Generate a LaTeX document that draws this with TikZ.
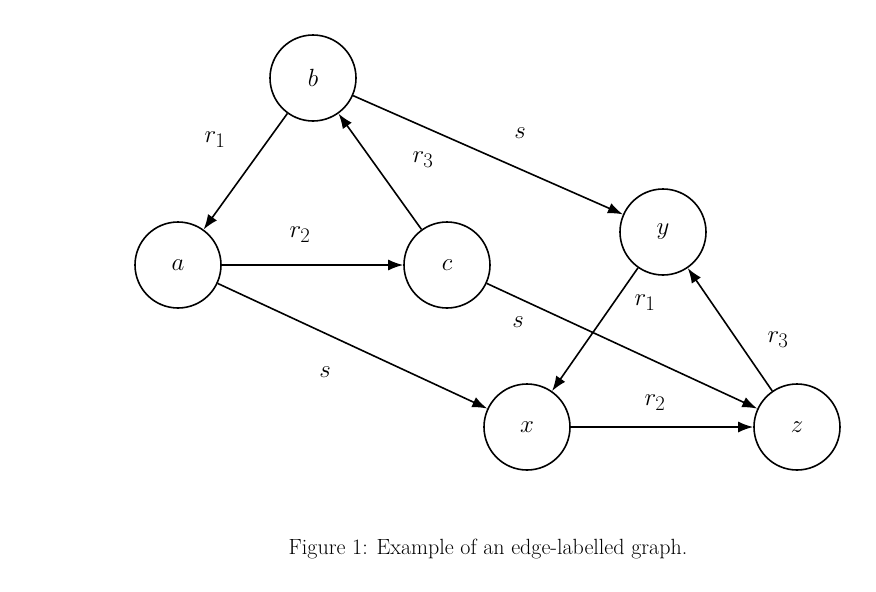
\documentclass[tikz,border=0pt]{standalone}
\usetikzlibrary{arrows.meta}
\begin{document}
\begin{tikzpicture}[x=1pt,y=-1pt,
  nd/.style={circle,draw,line width=1.6pt,minimum size=86pt,inner sep=0pt,font=\fontsize{30}{32}\selectfont},
  ed/.style={line width=1.6pt,-{Latex[length=15pt,width=11pt]}},
  lb/.style={font=\fontsize{30}{32}\selectfont}]
\useasboundingbox (0,0) rectangle (876,592);
\node[nd] (b) at (313,78) {$b$};
\node[nd] (a) at (178,265) {$a$};
\node[nd] (c) at (447,265) {$c$};
\node[nd] (y) at (663,232) {$y$};
\node[nd] (x) at (527,427) {$x$};
\node[nd] (z) at (797,427) {$z$};
\draw[ed] (b) -- (a);
\draw[ed] (c) -- (b);
\draw[ed] (b) -- (y);
\draw[ed] (a) -- (c);
\draw[ed] (a) -- (x);
\draw[ed] (c) -- (z);
\draw[ed] (y) -- (x);
\draw[ed] (x) -- (z);
\draw[ed] (z) -- (y);
\node[lb] (l1) at (215,140) {$r_1$};
\node[lb] (l2) at (423,160) {$r_3$};
\node[lb] (l3) at (520,133) {$s$};
\node[lb] (l4) at (300,235) {$r_2$};
\node[lb] (l5) at (518,322) {$s$};
\node[lb] (l6) at (645,303) {$r_1$};
\node[lb] (l7) at (778,340) {$r_3$};
\node[lb] (l8) at (325,372) {$s$};
\node[lb] (l9) at (655,403) {$r_2$};
\node[font=\fontsize{22}{26}\selectfont] (cap) at (488,549) {Figure 1: Example of an edge-labelled graph.};
\end{tikzpicture}
\end{document}
